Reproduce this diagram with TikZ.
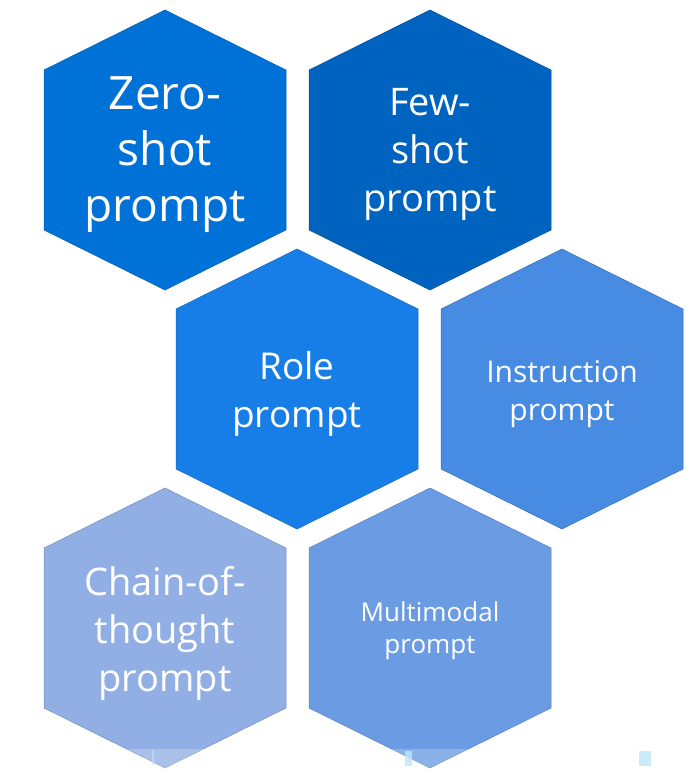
\documentclass[tikz,border=0pt]{standalone}
\usepackage{fontspec}
\setmainfont{Open Sans}
\definecolor{czero}{HTML}{0072D7}
\definecolor{cfew}{HTML}{0063BF}
\definecolor{crole}{HTML}{187EE7}
\definecolor{cinstr}{HTML}{478BE2}
\definecolor{cchain}{HTML}{91AFE4}
\definecolor{cmulti}{HTML}{6B9CE3}
\definecolor{cbgtop}{HTML}{EFEFEF}
\definecolor{cspeck}{HTML}{BFE6F8}
\newcommand\hexstack[2]{\vtop{\baselineskip=#1\lineskiplimit=-1000pt\relax\lineskip=0pt\relax\halign{\hfil##\hfil\cr#2\cr}}}
\newcommand\hexat[3]{\filldraw[hexshape,fill=#3,draw=#3!82!black] (#1,#2) ++(0,-140) -- ++(121,60) -- ++(0,160) -- ++(-121,60) -- ++(-121,-60) -- ++(0,-160) -- cycle;}
\begin{document}
\begin{tikzpicture}[x=1pt,y=-1pt,
  hexshape/.style={line width=0.5pt,line join=miter},
  lbl/.style={text=white,inner sep=0pt,anchor=base}]
\useasboundingbox (0,0) rectangle (697,770);
\fill[white] (0,0) rectangle (697,770);
\begin{scope}[y=1pt]
  \shade[top color=cbgtop,bottom color=white] (0,770) rectangle (697,740);
  \shade[top color=white,bottom color=cbgtop!70] (0,22) rectangle (697,0);
\end{scope}
% hexagons
\hexat{165}{150}{czero}
\hexat{430}{150}{cfew}
\hexat{297}{389}{crole}
\hexat{562}{389}{cinstr}
\hexat{165}{628}{cchain}
\hexat{430}{628}{cmulti}
% labels
\node[lbl,font=\fontsize{46}{57}\selectfont] (zero) at (165,110) {\hexstack{56pt}{Zero-\cr shot\cr prompt}};
\node[lbl,font=\fontsize{38}{46}\selectfont] (few) at (430,116) {\hexstack{48pt}{Few-\cr shot\cr prompt}};
\node[lbl,font=\fontsize{37}{48}\selectfont] (role) at (297,379) {\hexstack{48pt}{Role\cr prompt}};
\node[lbl,font=\fontsize{30}{38}\selectfont] (instr) at (562,382) {\hexstack{38pt}{Instruction\cr prompt}};
\node[lbl,font=\fontsize{38}{46}\selectfont] (chain) at (165,595) {\hexstack{48pt}{Chain-of-\cr thought\cr prompt}};
\node[lbl,font=\fontsize{26}{32}\selectfont] (multi) at (430,621) {\hexstack{32pt}{Multimodal\cr prompt}};
% bottom wash
\fill[white,opacity=0.22] (0,749) rectangle (697,770);
\fill[cspeck,opacity=0.6] (152,750) rectangle (153.5,765);
\fill[cspeck,opacity=0.8] (405,751) rectangle (412,766);
\fill[cspeck,opacity=0.8] (639,751) rectangle (651,766);
\end{tikzpicture}
\end{document}
